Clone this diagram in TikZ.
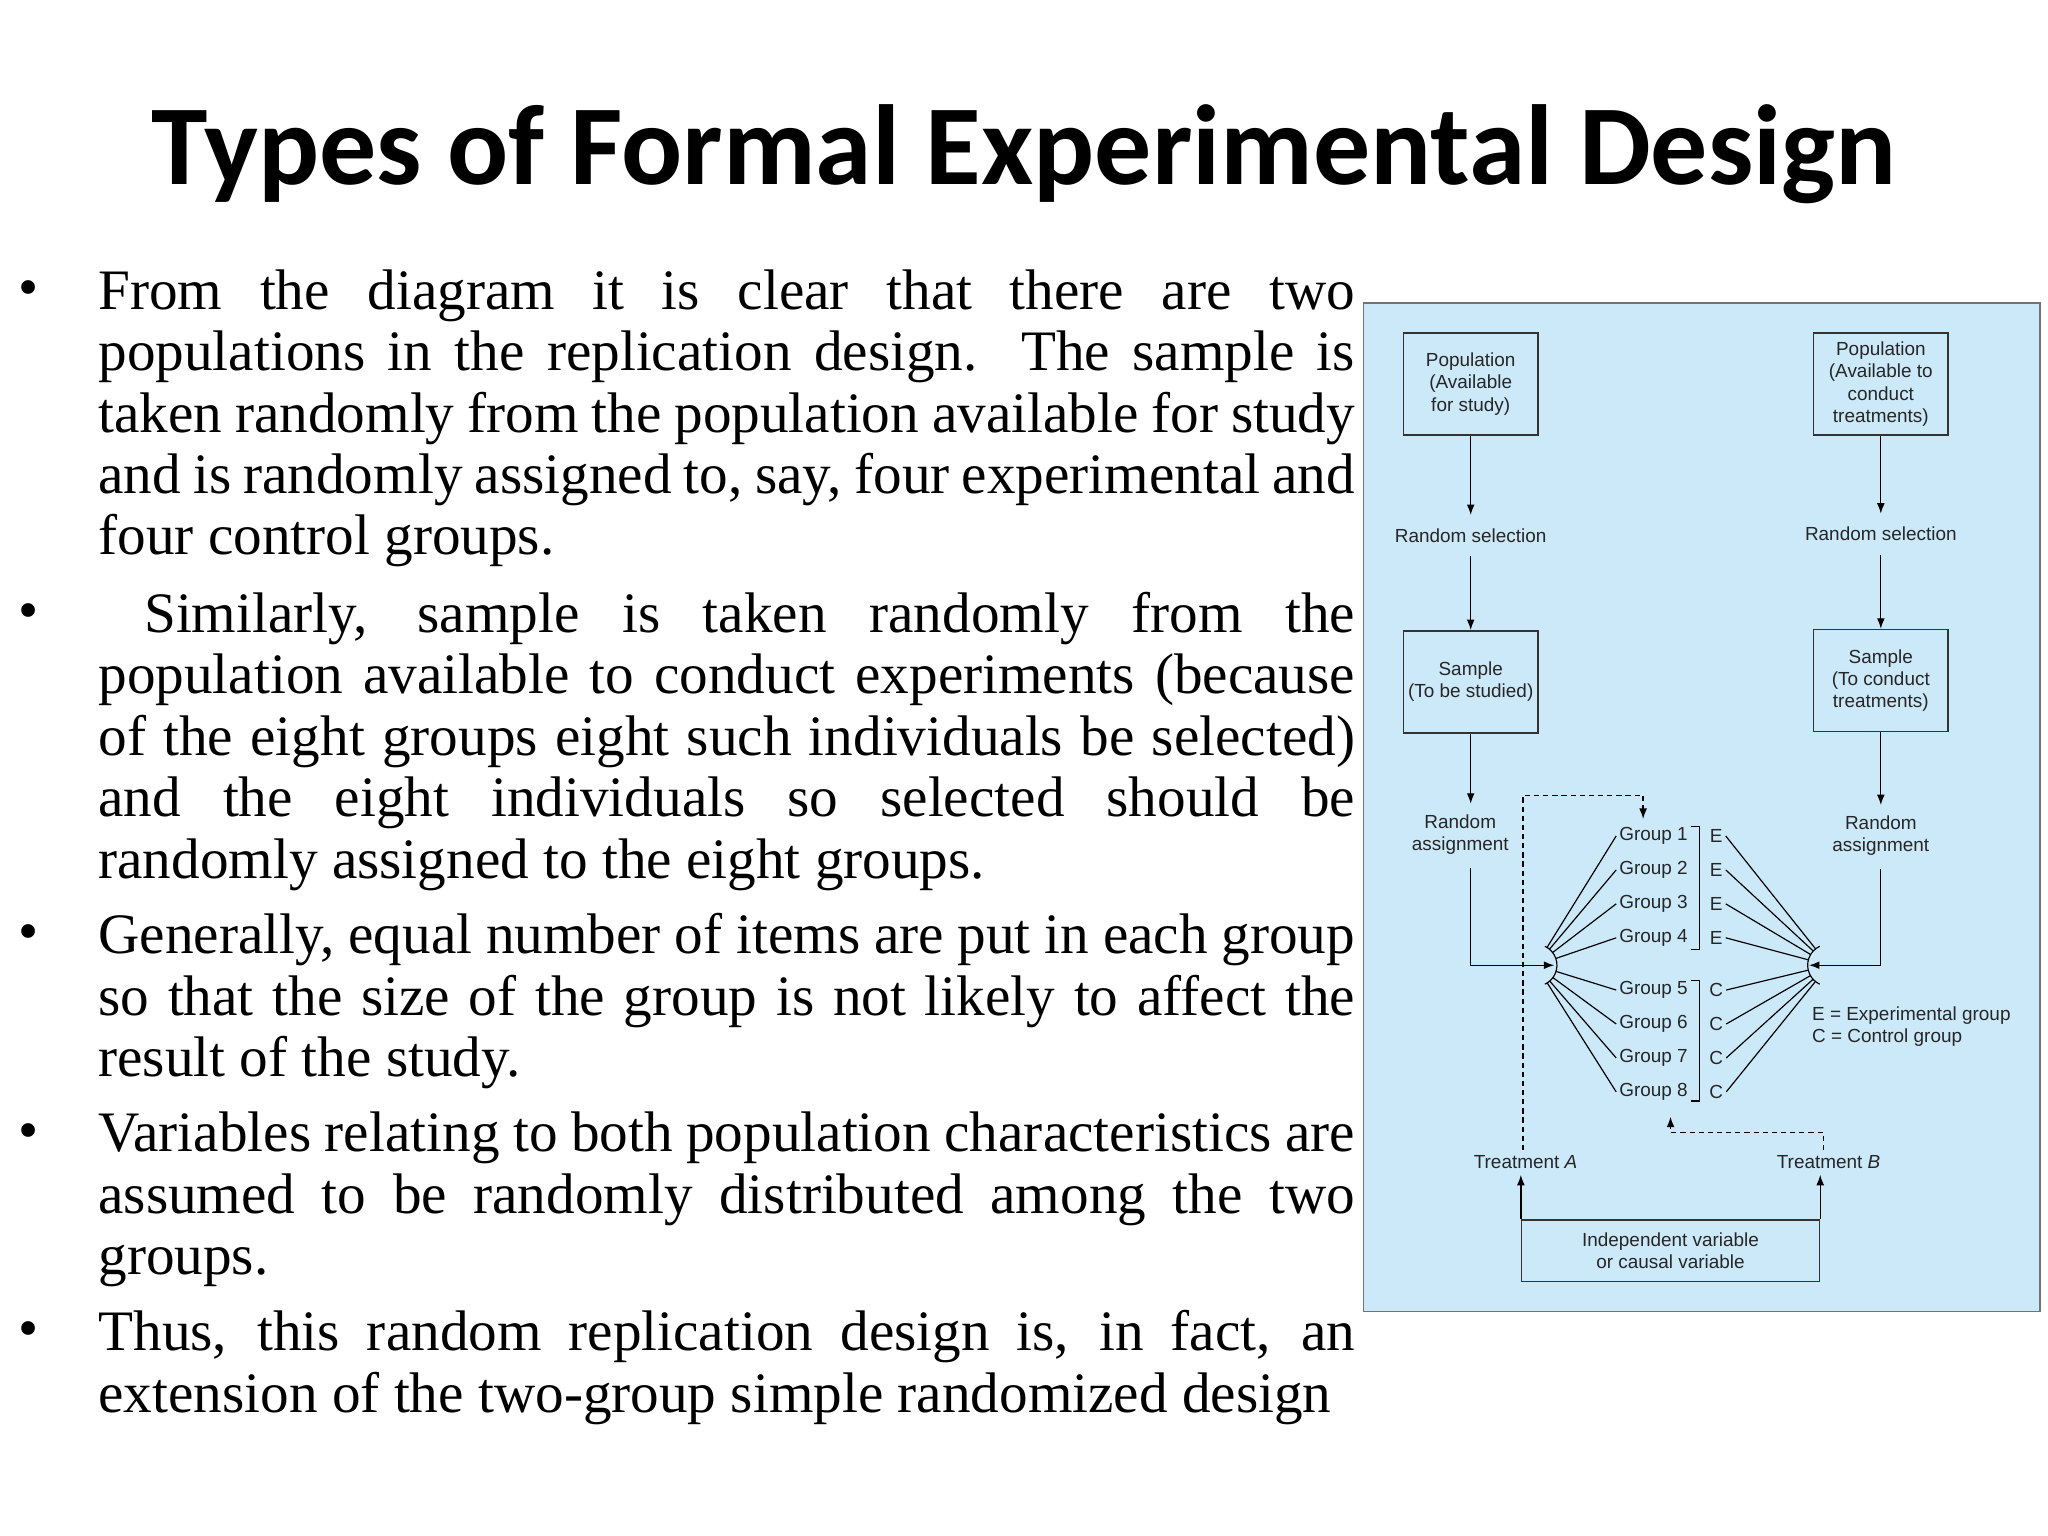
\documentclass[tikz,border=0pt]{standalone}
\usepackage{fontspec}
\setmainfont{Liberation Serif}
\newfontfamily\titlefont{Carlito}
\newfontfamily\dfont{Liberation Sans}
\usetikzlibrary{calc,arrows.meta}
\definecolor{diagbg}{HTML}{CCE9F9}
\hyphenpenalty=10000
\exhyphenpenalty=10000
\begin{document}
\begin{tikzpicture}[x=0.5pt,y=-0.5pt,
 para/.style={anchor=north west,inner sep=0pt,text width=481pt,align=justify,font=\fontsize{21.9}{23.5}\selectfont},
 bul/.style={anchor=center,inner sep=0pt,font=\fontsize{22}{23.5}\selectfont},
 dbox/.style={draw=black!80,line width=0.6pt,minimum width=51.5pt,minimum height=39pt,align=center,font=\dfont\fontsize{7.25}{8.5}\selectfont,inner sep=1pt,text=black!85},
 dlab/.style={align=center,font=\dfont\fontsize{7.25}{8.5}\selectfont,inner sep=1pt,text=black!85},
 arr/.style={-{Latex[length=4pt,width=3pt]},line width=0.5pt},
 ln/.style={line width=0.45pt},
 dsh/.style={dash pattern=on 2pt off 1.5pt,line width=0.5pt}]
\useasboundingbox (0,0) rectangle (1568,1176);
\fill[white] (0,0) rectangle (1568,1176);
\node[font=\titlefont\bfseries\fontsize{43.6}{50}\selectfont] (title) at (784,118) {Types of Formal Experimental Design};
% bullets
\foreach \y/\n in {225/b1,472/b2,718/b3,870/b4,1022/b5}{\node[bul] (\n) at (22,\y) {•};}
\node[para] (p1) at (75,206) {From the diagram it is clear that there are two populations in the replication design. The sample is taken randomly from the population available for study and is randomly assigned to, say, four experimental and four control groups.};
\node[para] (p2) at (75,453) {\hspace*{0.8em}Similarly, sample is taken randomly from the population available to conduct experiments (because of the eight groups eight such individuals be selected) and the eight individuals so selected should be randomly assigned to the eight groups.};
\node[para] (p3) at (75,699) {Generally, equal number of items are put in each group so that the size of the group is not likely to affect the result of the study.};
\node[para] (p4) at (75,851) {Variables relating to both population characteristics are assumed to be randomly distributed among the two groups.};
\node[para] (p5) at (75,1003) {Thus, this random replication design is, in fact, an extension of the two-group simple randomized design};
% diagram
\filldraw[fill=diagbg,draw=black!55,line width=0.6pt] (1044,232) rectangle (1562,1004);
\node[dbox] (popL) at (1126,294) {Population\\(Available\\for study)};
\node[dbox] (popR) at (1440,294) {Population\\(Available to\\conduct\\treatments)};
\node[dlab] (rsL) at (1126,410) {Random selection};
\node[dlab] (rsR) at (1440,409) {Random selection};
\node[dbox] (smL) at (1126,522) {Sample\\(To be studied)};
\node[dbox] (smR) at (1440,521) {Sample\\(To conduct\\treatments)};
\node[dlab] (raL) at (1118,639) {Random\\assignment};
\node[dlab] (raR) at (1440,640) {Random\\assignment};
\draw[arr] (popL.south) -- ($(rsL.north)+(0,-8)$);
\draw[arr] (popR.south) -- ($(rsR.north)+(0,-8)$);
\draw[arr] ($(rsL.south)+(0,8)$) -- (smL.north);
\draw[arr] ($(rsR.south)+(0,8)$) -- (smR.north);
\draw[arr] (smL.south) -- ($(raL.north -| smL.south)+(0,-6)$);
\draw[arr] (smR.south) -- ($(raR.north)+(0,-6)$);
\coordinate (hubL) at (1176,739);
\coordinate (hubR) at (1400,739);
\coordinate (hubLin) at (1190,739);
\coordinate (hubRin) at (1385,739);
\draw[ln] ($(hubL)+(6.8,-14.5)$) arc[start angle=65,end angle=-65,radius=8pt];
\draw[ln] ($(hubR)+(-6.8,-14.5)$) arc[start angle=115,end angle=245,radius=8pt];
\draw[arr] ($(raL.south -| smL.south)+(0,8)$) |- (hubLin);
\draw[arr] ($(raR.south)+(0,8)$) |- (hubRin);
\foreach \i/\y/\l in {1/640/E,2/666/E,3/692/E,4/718/E,5/758/C,6/784/C,7/810/C,8/836/C}{
  \node[dlab] (g\i) at (1266,\y) {Group \i};
  \node[dlab] (e\i) at (1314,\y) {\l};
  \draw[ln] ($(hubL)!8pt!(g\i.west)$) -- (g\i.west);
  \draw[ln] ($(hubR)!8pt!(e\i.east)$) -- (e\i.east);
}
\draw[ln] (1295,633) -- (1301,633) -- (1301,727) -- (1295,727);
\draw[ln] (1295,751) -- (1301,751) -- (1301,843) -- (1295,843);
\node[dlab,anchor=west,align=left] (leg) at (1385,786) {E = Experimental group\\C = Control group};
\node[dlab] (tA) at (1168,890) {Treatment \textit{A}};
\node[dlab] (tB) at (1400,890) {Treatment \textit{B}};
\draw[dsh,-{Latex[length=4pt,width=3pt]}] ($(tA.north)+(-2,-2)$) |- (1258,609) -- (1258,627);
\draw[dsh,-{Latex[length=4pt,width=3pt]}] ($(tB.north)+(-4,-2)$) |- (1279,867) -- (1279,855);
\node[dbox,minimum width=114pt,minimum height=23.5pt] (iv) at (1279,957.5) {Independent variable\\or causal variable};
\draw[arr] (iv.north west) -- ($(tA.south -| iv.north west)+(0,2)$);
\draw[arr] (iv.north east) -- ($(tB.south -| iv.north east)+(0,2)$);
\end{tikzpicture}
\end{document}
